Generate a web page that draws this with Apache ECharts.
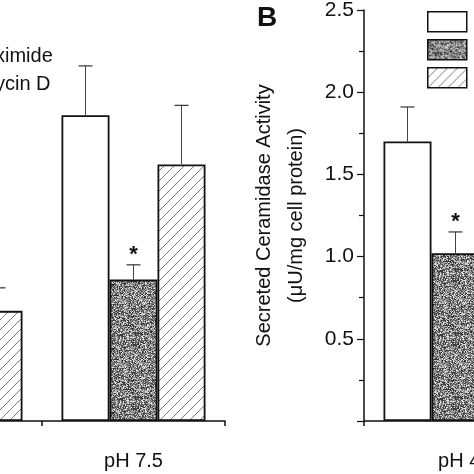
<!DOCTYPE html>
<html>
<head>
<meta charset="utf-8">
<script src="https://cdn.jsdelivr.net/npm/echarts@6/dist/echarts.min.js"></script>
<style>
  html, body { margin: 0; padding: 0; background: #fff; }
  #chart { width: 474px; height: 474px; }
</style>
</head>
<body>
<div id="chart"></div>
<script>
// categories and series
const categories = ['pH 4.5', 'pH 7.5'];
const seriesNames = ['Control', 'Cycloheximide', 'Actinomycin D'];
const yTicks = [0, 0.5, 1.0, 1.5, 2.0, 2.5];

// panel A (left, mostly cropped)
const aControl = [null, 1.86];
const aCyclo = [null, 0.86];
const aActino = [0.67, 1.56];
const aControlErr = [null, 0.30];
const aCycloErr = [null, 0.09];
const aActinoErr = [0.14, 0.36];
const aStars = [[], [1]]; // series index -> category indices with *

// panel B (right, secreted activity)
const bControl = [1.70, null];
const bCyclo = [1.02, null];
const bActino = [null, null];
const bControlErr = [0.21, null];
const bCycloErr = [0.13, null];
const bStars = [[], [0]];

const FONT = "'Liberation Sans', Arial, sans-serif";
const INK = '#111';

// fill patterns
function stipple() {
  const c = document.createElement('canvas');
  c.width = 64; c.height = 64;
  const ctx = c.getContext('2d');
  for (let i = 0; i < 64; i++) {
    for (let j = 0; j < 64; j++) {
      const h = Math.sin(i * 12.9898 + j * 78.233) * 43758.5453;
      const v = h - Math.floor(h);
      const g = Math.round(40 + Math.pow(v, 1.2) * 200);
      ctx.fillStyle = 'rgb(' + g + ',' + g + ',' + g + ')';
      ctx.fillRect(i, j, 1, 1);
    }
  }
  return c;
}
function hatch() {
  const s = 10;
  const c = document.createElement('canvas');
  c.width = s; c.height = s;
  const ctx = c.getContext('2d');
  ctx.fillStyle = '#fff';
  ctx.fillRect(0, 0, s, s);
  ctx.strokeStyle = '#7a7a7a';
  ctx.lineWidth = 1;
  for (let k = -1; k <= 1; k++) {
    ctx.beginPath();
    ctx.moveTo(k * s - 1, s + 1);
    ctx.lineTo(k * s + s + 1, -1);
    ctx.stroke();
  }
  return c;
}
const fills = ['#fff', { image: stipple(), repeat: 'repeat' }, { image: hatch(), repeat: 'repeat' }];

const BAR_W = 48;

function barSeries(name, k, values, axis) {
  return {
    name: name,
    type: 'bar',
    xAxisIndex: axis,
    yAxisIndex: axis,
    barWidth: BAR_W,
    barGap: '0%',
    data: values,
    itemStyle: { color: fills[k], borderColor: INK, borderWidth: 1.8 },
    z: 2
  };
}

function errSeries(k, values, errs, stars, axis) {
  const data = [];
  values.forEach(function (v, i) {
    if (v == null || errs[i] == null) return;
    data.push([i, v, errs[i], stars[k] && stars[k].indexOf(i) >= 0 ? 1 : 0]);
  });
  return {
    type: 'custom',
    xAxisIndex: axis,
    yAxisIndex: axis,
    z: 3,
    clip: false,
    data: data,
    renderItem: function (params, api) {
      const base = api.coord([api.value(0), api.value(1)]);
      const top = api.coord([api.value(0), api.value(1) + api.value(2)]);
      const x = base[0] + (k - 1) * BAR_W;
      const children = [
        { type: 'line', shape: { x1: x, y1: base[1], x2: x, y2: top[1] }, style: { stroke: '#444', lineWidth: 1 } },
        { type: 'line', shape: { x1: x - 7, y1: top[1], x2: x + 7, y2: top[1] }, style: { stroke: '#333', lineWidth: 1.2 } }
      ];
      if (api.value(3)) {
        children.push({
          type: 'text',
          style: { text: '*', x: x, y: top[1] + 1, align: 'center', verticalAlign: 'bottom', font: 'bold 22px ' + FONT, fill: INK }
        });
      }
      return { type: 'group', children: children };
    }
  };
}

const axisLine = { show: true, lineStyle: { color: INK, width: 1.5 } };

function xAxis(idx, labelPad) {
  return {
    type: 'category',
    gridIndex: idx,
    data: categories,
    axisLine: axisLine,
    axisTick: { show: true, length: 5, lineStyle: { color: INK, width: 1.5 } },
    axisLabel: { margin: 30, fontSize: 20, fontFamily: FONT, color: INK, padding: [0, 0, 0, labelPad] }
  };
}

function yAxis(idx, name) {
  return {
    type: 'value',
    gridIndex: idx,
    min: yTicks[0],
    max: yTicks[yTicks.length - 1],
    interval: yTicks[1] - yTicks[0],
    name: name,
    nameLocation: 'middle',
    nameGap: 52,
    nameTextStyle: { fontSize: 20, fontFamily: FONT, color: INK, lineHeight: 32 },
    axisLine: axisLine,
    axisTick: { show: true, length: 7, lineStyle: { color: INK, width: 1.2 } },
    minorTick: { show: true, splitNumber: 2, length: 5, lineStyle: { color: INK, width: 1.2 } },
    splitLine: { show: false },
    axisLabel: {
      showMinLabel: false, margin: 10, fontSize: 21, fontFamily: FONT, color: INK,
      formatter: function (v) { return v.toFixed(1); }
    }
  };
}

const legendBase = {
  data: seriesNames,
  orient: 'vertical',
  icon: 'rect',
  padding: 0,
  itemWidth: 39,
  itemHeight: 20,
  itemGap: 6.5,
  selectedMode: false,
  itemStyle: { borderColor: INK, borderWidth: 1.5 },
  textStyle: { fontSize: 20, fontFamily: FONT, color: INK, lineHeight: 20 }
};

const chart = echarts.init(document.getElementById('chart'));

chart.setOption({
  animation: false,
  legend: [
    Object.assign({}, legendBase, { left: -122, top: 18 }),
    Object.assign({}, legendBase, {
      left: 427, top: 11,
      textStyle: { fontSize: 20, fontFamily: FONT, color: INK, lineHeight: 20, padding: [0, 0, 0, 30] }
    })
  ],
  grid: [
    { left: -141, width: 366, top: 10, height: 411, outerBoundsMode: 'none', containLabel: false },
    { left: 364, width: 366, top: 10, height: 411, outerBoundsMode: 'none', containLabel: false }
  ],
  xAxis: [xAxis(0, 0), xAxis(1, 24)],
  yAxis: [
    yAxis(0, 'Ceramidase Activity'),
    yAxis(1, 'Secreted Ceramidase Activity\n(\u03bcU/mg cell protein)')
  ],
  graphic: [
    { type: 'text', left: 257, top: 4, style: { text: 'B', font: 'bold 28px ' + FONT, fill: INK } }
  ],
  series: [
    barSeries(seriesNames[0], 0, aControl, 0),
    barSeries(seriesNames[1], 1, aCyclo, 0),
    barSeries(seriesNames[2], 2, aActino, 0),
    barSeries(seriesNames[0], 0, bControl, 1),
    barSeries(seriesNames[1], 1, bCyclo, 1),
    barSeries(seriesNames[2], 2, bActino, 1),
    errSeries(0, aControl, aControlErr, aStars, 0),
    errSeries(1, aCyclo, aCycloErr, aStars, 0),
    errSeries(2, aActino, aActinoErr, aStars, 0),
    errSeries(0, bControl, bControlErr, bStars, 1),
    errSeries(1, bCyclo, bCycloErr, bStars, 1)
  ]
});
</script>
</body>
</html>
